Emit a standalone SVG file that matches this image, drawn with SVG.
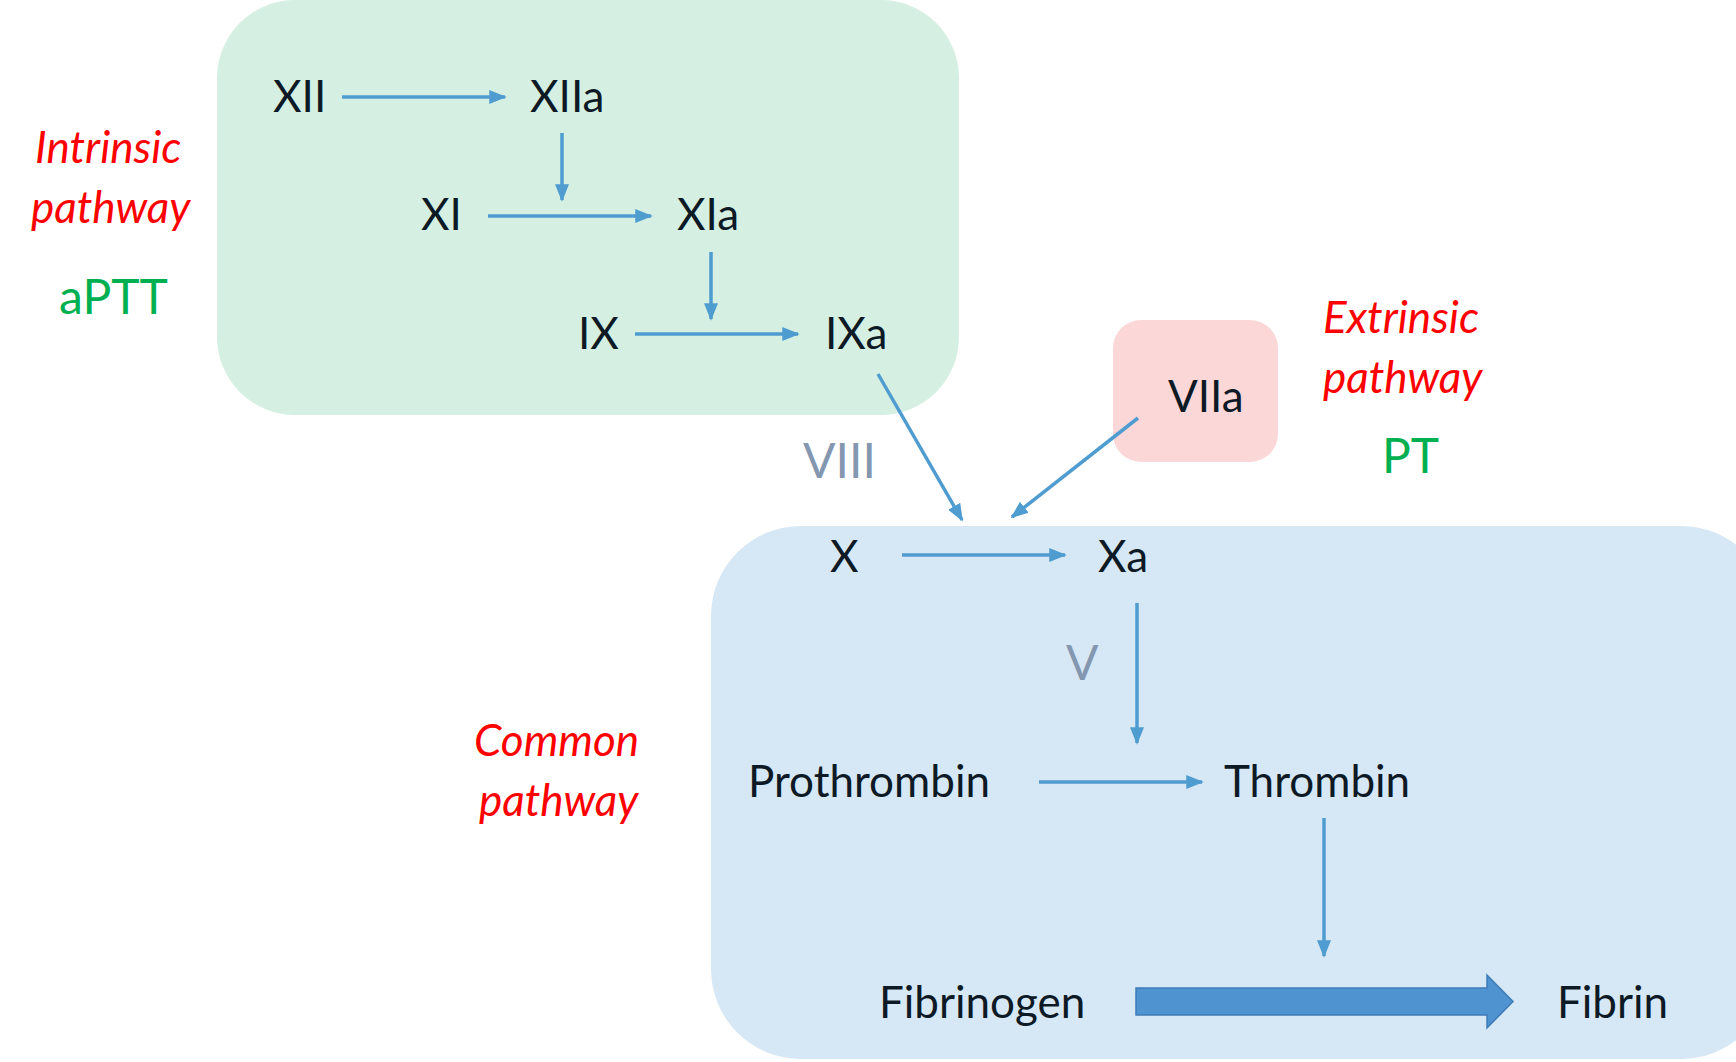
<svg xmlns="http://www.w3.org/2000/svg" width="1736" height="1062" viewBox="0 0 1736 1062">
<style>
.t{font-family:Lato,"Open Sans",sans-serif;font-size:44px;fill:#0d1a26}
.r{font-family:Lato,"Open Sans",sans-serif;font-size:44px;fill:#ff0000;font-style:italic}
.g{font-family:Lato,"Open Sans",sans-serif;font-size:48px;fill:#00b050}
.f{font-family:Lato,"Open Sans",sans-serif;font-size:48px;fill:#8497b0}
.c{stroke:#4f9cd0;stroke-width:3.5;fill:none;marker-end:url(#ah)}
</style>
<defs><marker id="ah" viewBox="0 0 10 10" refX="9" refY="5" markerWidth="5" markerHeight="5" orient="auto" markerUnits="strokeWidth"><path d="M0,1L10,5L0,9z" fill="#4f9cd0"/></marker></defs>
<rect width="1736" height="1062" fill="#fff"/>
<g id="intrinsic-box"><rect x="217" y="0" width="742" height="415" rx="78" fill="#d5f0e3"/></g>
<g id="common-box"><rect x="711" y="526" width="1060" height="533" rx="90" fill="#d6e7f5"/></g>
<g id="extrinsic-box"><rect x="1113" y="320" width="165" height="142" rx="28" fill="#fcd7d8"/></g>
<g id="labels">
<text class="r" x="35" y="163">Intrinsic</text><text class="r" x="31" y="223">pathway</text>
<text class="g" x="59" y="314">aPTT</text>
<text class="r" x="1323" y="333">Extrinsic</text><text class="r" x="1323" y="393">pathway</text>
<text class="g" x="1382" y="473">PT</text>
<text class="r" x="474" y="756">Common</text><text class="r" x="479" y="816">pathway</text>
<text class="f" x="803" y="478">VIII</text><text class="f" x="1066" y="680">V</text>
</g>
<g id="n-XII"><text class="t" x="273" y="112">XII</text></g>
<g id="n-XIIa"><text class="t" x="530" y="112">XIIa</text></g>
<g id="n-XI"><text class="t" x="421" y="230">XI</text></g>
<g id="n-XIa"><text class="t" x="677" y="230">XIa</text></g>
<g id="n-IX"><text class="t" x="578" y="349">IX</text></g>
<g id="n-IXa"><text class="t" x="825" y="349">IXa</text></g>
<g id="n-VIIa"><text class="t" x="1168" y="412">VIIa</text></g>
<g id="n-X"><text class="t" x="830" y="572">X</text></g>
<g id="n-Xa"><text class="t" x="1098" y="572">Xa</text></g>
<g id="n-Prothrombin"><text class="t" x="748" y="797">Prothrombin</text></g>
<g id="n-Thrombin"><text class="t" x="1224" y="797">Thrombin</text></g>
<g id="n-Fibrinogen"><text class="t" x="879" y="1018">Fibrinogen</text></g>
<g id="n-Fibrin"><text class="t" x="1557" y="1018">Fibrin</text></g>
<g id="connectors">
<path class="c" d="M342,97H505"/>
<path class="c" d="M562,133V200"/>
<path class="c" d="M488,216H651"/>
<path class="c" d="M711,252V319"/>
<path class="c" d="M635,334H798"/>
<path class="c" d="M878,374L962,520"/>
<path class="c" d="M1138,418L1012,517"/>
<path class="c" d="M902,555H1065"/>
<path class="c" d="M1137,603V743"/>
<path class="c" d="M1039,782H1202"/>
<path class="c" d="M1324,818V956"/>
<path d="M1136,988H1487V975L1513,1001.5L1487,1028V1015H1136Z" fill="#4f93d0" stroke="#3e7cb8" stroke-width="1.5"/>
</g>
</svg>
